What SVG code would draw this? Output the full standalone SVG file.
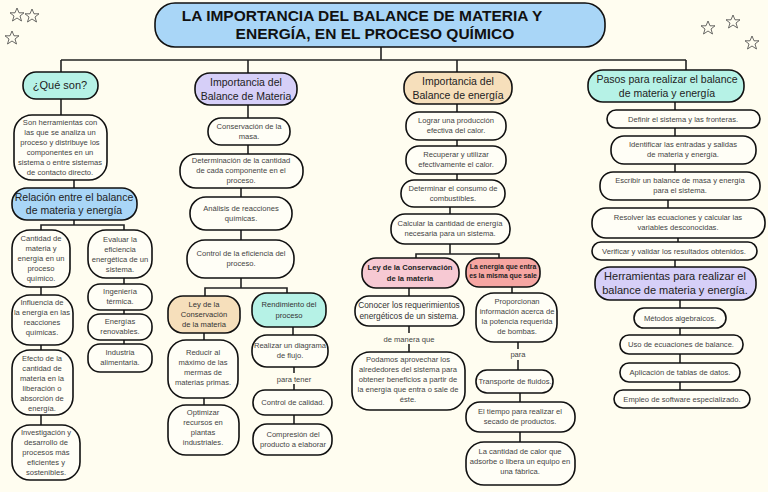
<svg xmlns="http://www.w3.org/2000/svg" width="768" height="492" viewBox="0 0 768 492">
<style>
.b{fill:#fffef6;stroke:#111;stroke-width:1.6}
.teal{fill:#b6f2e6}.blue{fill:#a9d6f7}.lav{fill:#d6cff8}.tan{fill:#f6dfbb}.pink{fill:#f7c9d3}.sal{fill:#f6a6a2}
text{font-family:"Liberation Sans",Arial,sans-serif;text-anchor:middle}
.t{font-size:7.6px;fill:#444}
.h{font-size:11px;fill:#222}
.s{font-size:8.3px;fill:#333}
.bd{font-size:7.6px;font-weight:bold;fill:#222}
.c line,.c path{stroke:#222;stroke-width:1.6;fill:none}
.star{fill:none;stroke:#444;stroke-width:0.8}
</style>
<rect width="768" height="492" fill="#fffdf0"/>
<defs><path id="st" d="M0,-7 L2,-2.2 7,-2.2 3,1 4.5,6 0,3 -4.5,6 -3,1 -7,-2.2 -2,-2.2Z"/></defs>
<g class="star"><use href="#st" x="17" y="15"/><use href="#st" x="32" y="16"/><use href="#st" x="12" y="38"/><use href="#st" x="708" y="28"/><use href="#st" x="733" y="22"/><use href="#st" x="752" y="43"/></g>
<g class="c">
<line x1="381" y1="47" x2="381" y2="60"/><line x1="61" y1="60" x2="686" y2="60"/>
<line x1="61" y1="60" x2="61" y2="72"/><line x1="248" y1="60" x2="248" y2="73"/><line x1="457" y1="60" x2="457" y2="72"/><line x1="686" y1="60" x2="686" y2="70"/>
<line x1="61" y1="99" x2="61" y2="115"/><line x1="74" y1="180" x2="74" y2="188"/><line x1="74" y1="220" x2="74" y2="225"/>
<path d="M41,230 V225 H124 V230"/><line x1="41" y1="287" x2="41" y2="295"/><line x1="41" y1="345" x2="41" y2="350"/><line x1="41" y1="415" x2="41" y2="425"/>
<line x1="124" y1="278" x2="124" y2="284"/><line x1="124" y1="310" x2="124" y2="314"/><line x1="124" y1="340" x2="124" y2="344"/>
<line x1="248" y1="105" x2="248" y2="118"/><line x1="248" y1="145" x2="248" y2="154"/><line x1="241" y1="188" x2="241" y2="197"/><line x1="241" y1="230" x2="241" y2="240"/><line x1="241" y1="278" x2="241" y2="288"/>
<path d="M205,296 V288 H287 V293"/><line x1="204" y1="333" x2="204" y2="340"/><line x1="204" y1="398" x2="204" y2="405"/>
<line x1="293" y1="327" x2="293" y2="335"/><line x1="294" y1="367" x2="294" y2="373"/><line x1="294" y1="384" x2="294" y2="390"/><line x1="294" y1="415" x2="294" y2="424"/>
<line x1="457" y1="104" x2="457" y2="112"/><line x1="457" y1="140" x2="457" y2="146"/><line x1="457" y1="174" x2="457" y2="180"/><line x1="450" y1="207" x2="450" y2="214"/><line x1="450" y1="244" x2="450" y2="254"/>
<path d="M416,258 V254 H499 V258"/><line x1="409" y1="288" x2="409" y2="296"/><line x1="409" y1="326" x2="409" y2="333"/><line x1="409" y1="344" x2="409" y2="352"/>
<line x1="512" y1="287" x2="512" y2="293"/><line x1="518" y1="342" x2="518" y2="349"/><line x1="518" y1="360" x2="518" y2="370"/><line x1="520" y1="393" x2="520" y2="402"/><line x1="520" y1="432" x2="520" y2="442"/>
<line x1="675" y1="102" x2="675" y2="110"/><line x1="675" y1="128" x2="675" y2="136"/><line x1="675" y1="164" x2="675" y2="172"/><line x1="668" y1="200" x2="668" y2="208"/><line x1="678" y1="238" x2="678" y2="242"/><line x1="675" y1="260" x2="675" y2="267"/>
<line x1="680" y1="300" x2="680" y2="308"/><line x1="680" y1="328" x2="680" y2="335"/><line x1="680" y1="354" x2="680" y2="363"/><line x1="680" y1="382" x2="680" y2="390"/>
</g>
<g id="title"><rect class="b blue" x="155" y="3" width="450" height="44" rx="20"/><text x="362" y="21" style="font-size:15.5px;font-weight:bold;fill:#111">LA IMPORTANCIA DEL BALANCE DE MATERIA Y</text><text x="375" y="39" style="font-size:15.5px;font-weight:bold;fill:#111">ENERGÍA, EN EL PROCESO QUÍMICO</text></g>
<g id="queson"><rect class="b teal" x="23" y="72" width="75" height="27" rx="13"/><text class="h" x="60" y="89">¿Qué son?</text></g>
<g id="son"><rect class="b" x="14" y="115" width="93" height="65" rx="18"/><text class="t"><tspan x="60" y="125">Son herramientas con</tspan><tspan x="60" y="135">las que se analiza un</tspan><tspan x="60" y="145">proceso y distribuye  los</tspan><tspan x="60" y="155">componentes en un</tspan><tspan x="60" y="165">sistema o entre sistemas</tspan><tspan x="60" y="175">de contacto directo.</tspan></text></g>
<g id="relacion"><rect class="b blue" x="12" y="188" width="125" height="32" rx="15"/><text class="h" style="font-size:10.5px"><tspan x="74" y="201">Relación entre el balance</tspan><tspan x="74" y="214">de materia y energía</tspan></text></g>
<g id="cantidad"><rect class="b" x="12" y="230" width="58" height="57" rx="18"/><text class="t"><tspan x="41" y="241">Cantidad de</tspan><tspan x="41" y="251">materia y</tspan><tspan x="41" y="261">energía en un</tspan><tspan x="41" y="271">proceso</tspan><tspan x="41" y="281">químico.</tspan></text></g>
<g id="influencia"><rect class="b" x="12" y="295" width="61" height="50" rx="18"/><text class="t"><tspan x="42" y="305">Influencia de</tspan><tspan x="42" y="315">la energía en las</tspan><tspan x="42" y="325">reacciones</tspan><tspan x="42" y="335">químicas.</tspan></text></g>
<g id="efecto"><rect class="b" x="12" y="350" width="61" height="65" rx="18"/><text class="t"><tspan x="42" y="361">Efecto de la</tspan><tspan x="42" y="371">cantidad de</tspan><tspan x="42" y="381">materia en la</tspan><tspan x="42" y="391">liberación o</tspan><tspan x="42" y="401">absorción de</tspan><tspan x="42" y="411">energía.</tspan></text></g>
<g id="investigacion"><rect class="b" x="12" y="425" width="68" height="55" rx="18"/><text class="t"><tspan x="46" y="435">Investigación y</tspan><tspan x="46" y="445">desarrollo de</tspan><tspan x="46" y="455">procesos más</tspan><tspan x="46" y="465">eficientes y</tspan><tspan x="46" y="475">sostenibles.</tspan></text></g>
<g id="evaluar"><rect class="b" x="88" y="230" width="64" height="48" rx="18"/><text class="t"><tspan x="120" y="242">Evaluar la</tspan><tspan x="120" y="252">eficiencia</tspan><tspan x="120" y="262">energética de un</tspan><tspan x="120" y="272">sistema.</tspan></text></g>
<g id="ingenieria"><rect class="b" x="88" y="284" width="64" height="26" rx="12"/><text class="t"><tspan x="120" y="294">Ingeniería</tspan><tspan x="120" y="304">térmica.</tspan></text></g>
<g id="energias"><rect class="b" x="88" y="314" width="64" height="26" rx="12"/><text class="t"><tspan x="120" y="324">Energías</tspan><tspan x="120" y="334">renovables.</tspan></text></g>
<g id="industria"><rect class="b" x="88" y="344" width="64" height="28" rx="12"/><text class="t"><tspan x="120" y="355">Industria</tspan><tspan x="120" y="365">alimentaria.</tspan></text></g>
<g id="impmat"><rect class="b lav" x="195" y="73" width="102" height="32" rx="15"/><text class="h" style="font-size:10.5px"><tspan x="246" y="86">Importancia del</tspan><tspan x="246" y="100">Balance de Materia</tspan></text></g>
<g id="conservacion"><rect class="b" x="208" y="118" width="82" height="27" rx="13"/><text class="t"><tspan x="249" y="129">Conservación de la</tspan><tspan x="249" y="139">masa.</tspan></text></g>
<g id="determinacion"><rect class="b" x="180" y="154" width="123" height="34" rx="16"/><text class="t"><tspan x="241" y="163">Determinación de la cantidad</tspan><tspan x="241" y="173">de cada componente en el</tspan><tspan x="241" y="183">proceso.</tspan></text></g>
<g id="analisis"><rect class="b" x="190" y="197" width="102" height="33" rx="16"/><text class="t"><tspan x="241" y="211">Análisis de reacciones</tspan><tspan x="241" y="221">químicas.</tspan></text></g>
<g id="control"><rect class="b" x="187" y="240" width="107" height="38" rx="18"/><text class="t"><tspan x="241" y="256">Control de la eficiencia del</tspan><tspan x="241" y="266">proceso.</tspan></text></g>
<g id="leymat"><rect class="b tan" x="168" y="296" width="72" height="37" rx="15"/><text class="t" style="fill:#333"><tspan x="204" y="307">Ley de la</tspan><tspan x="204" y="317">Conservación</tspan><tspan x="204" y="327">de la materia</tspan></text></g>
<g id="rendimiento"><rect class="b teal" x="252" y="293" width="74" height="34" rx="15"/><text class="t" style="fill:#333"><tspan x="289" y="307">Rendimiento del</tspan><tspan x="289" y="318">proceso</tspan></text></g>
<g id="reducir"><rect class="b" x="168" y="340" width="70" height="58" rx="18"/><text class="t"><tspan x="203" y="355">Reducir al</tspan><tspan x="203" y="365">máximo de las</tspan><tspan x="203" y="375">mermas de</tspan><tspan x="203" y="385">materias primas.</tspan></text></g>
<g id="optimizar"><rect class="b" x="168" y="405" width="71" height="50" rx="18"/><text class="t"><tspan x="203" y="415">Optimizar</tspan><tspan x="203" y="425">recursos en</tspan><tspan x="203" y="435">plantas</tspan><tspan x="203" y="445">industriales.</tspan></text></g>
<g id="realizar"><rect class="b" x="252" y="335" width="76" height="32" rx="15"/><text class="t"><tspan x="290" y="348">Realizar un diagrama</tspan><tspan x="290" y="358">de flujo.</tspan></text></g>
<text class="t" x="294" y="382">para tener</text>
<g id="calidad"><rect class="b" x="253" y="390" width="79" height="25" rx="12"/><text class="t" x="293" y="405">Control de calidad.</text></g>
<g id="compresion"><rect class="b" x="253" y="424" width="79" height="31" rx="14"/><text class="t"><tspan x="293" y="437">Compresión del</tspan><tspan x="293" y="447">producto a elaborar</tspan></text></g>
<g id="impen"><rect class="b tan" x="404" y="72" width="108" height="32" rx="15"/><text class="h" style="font-size:10.5px"><tspan x="458" y="85">Importancia del</tspan><tspan x="458" y="99">Balance de energía</tspan></text></g>
<g id="lograr"><rect class="b" x="406" y="112" width="100" height="28" rx="13"/><text class="t"><tspan x="456" y="123">Lograr una producción</tspan><tspan x="456" y="133">efectiva del calor.</tspan></text></g>
<g id="recuperar"><rect class="b" x="406" y="146" width="100" height="28" rx="13"/><text class="t"><tspan x="456" y="157">Recuperar y utilizar</tspan><tspan x="456" y="167">efectivamente el calor.</tspan></text></g>
<g id="determinar"><rect class="b" x="401" y="180" width="104" height="27" rx="13"/><text class="t"><tspan x="453" y="191">Determinar el consumo de</tspan><tspan x="453" y="201">combustibles.</tspan></text></g>
<g id="calcular"><rect class="b" x="391" y="214" width="119" height="30" rx="14"/><text class="t"><tspan x="450" y="226">Calcular la cantidad de energía</tspan><tspan x="450" y="236">necesaria para un sistema.</tspan></text></g>
<g id="leyen"><rect class="b pink" x="362" y="258" width="97" height="30" rx="14"/><text class="bd"><tspan x="410" y="270">Ley de la Conservación</tspan><tspan x="410" y="281">de la materia</tspan></text></g>
<g id="energia"><rect class="b sal" x="466" y="258" width="74" height="29" rx="13"/><text class="bd" style="font-size:6.8px"><tspan x="503" y="269">La energía que entra</tspan><tspan x="503" y="278">es la misma que sale</tspan></text></g>
<g id="conocer"><rect class="b" x="355" y="296" width="109" height="30" rx="14"/><text class="s"><tspan x="409" y="308">Conocer los requerimientos</tspan><tspan x="409" y="319">energéticos de un sistema.</tspan></text></g>
<text class="t" x="409" y="342">de manera que</text>
<g id="podamos"><rect class="b" x="352" y="352" width="113" height="58" rx="18"/><text class="t"><tspan x="408" y="362">Podamos aprovechar los</tspan><tspan x="408" y="372">alrededores del sistema para</tspan><tspan x="408" y="382">obtener beneficios a partir de</tspan><tspan x="408" y="392">la energía que entra o sale de</tspan><tspan x="408" y="402">éste.</tspan></text></g>
<g id="proporcionan"><rect class="b" x="476" y="293" width="81" height="49" rx="18"/><text class="t"><tspan x="517" y="304">Proporcionan</tspan><tspan x="517" y="314">información acerca de</tspan><tspan x="517" y="324">la potencia requerida</tspan><tspan x="517" y="334">de bombas.</tspan></text></g>
<text class="t" x="518" y="357">para</text>
<g id="transporte"><rect class="b" x="476" y="370" width="77" height="23" rx="11"/><text class="t" x="515" y="384">Transporte de fluidos.</text></g>
<g id="tiempo"><rect class="b" x="466" y="402" width="109" height="30" rx="14"/><text class="t"><tspan x="520" y="414">El tiempo para realizar el</tspan><tspan x="520" y="424">secado de productos.</tspan></text></g>
<g id="calor"><rect class="b" x="466" y="442" width="109" height="43" rx="18"/><text class="t"><tspan x="520" y="454">La cantidad de calor que</tspan><tspan x="520" y="464">adsorbe o libera un equipo en</tspan><tspan x="520" y="474">una fábrica.</tspan></text></g>
<g id="pasos"><rect class="b teal" x="588" y="70" width="156" height="32" rx="15"/><text class="h" style="font-size:10.5px"><tspan x="667" y="83">Pasos para realizar el balance</tspan><tspan x="667" y="97">de materia y energía</tspan></text></g>
<g id="definir"><rect class="b" x="607" y="110" width="153" height="18" rx="9"/><text class="t" x="683" y="122">Definir el sistema y las fronteras.</text></g>
<g id="identificar"><rect class="b" x="611" y="136" width="145" height="28" rx="13"/><text class="t"><tspan x="683" y="147">Identificar las entradas y salidas</tspan><tspan x="683" y="157">de materia y energía.</tspan></text></g>
<g id="escribir"><rect class="b" x="600" y="172" width="160" height="28" rx="13"/><text class="t"><tspan x="680" y="183">Escribir un balance de masa y energía</tspan><tspan x="680" y="193">para el sistema.</tspan></text></g>
<g id="resolver"><rect class="b" x="592" y="208" width="173" height="30" rx="14"/><text class="t"><tspan x="678" y="220">Resolver las ecuaciones y calcular las</tspan><tspan x="678" y="230">variables desconocidas.</tspan></text></g>
<g id="verificar"><rect class="b" x="592" y="242" width="165" height="18" rx="9"/><text class="t" x="674" y="254">Verificar y validar los resultados obtenidos.</text></g>
<g id="herramientas"><rect class="b lav" x="595" y="267" width="161" height="33" rx="15"/><text class="h" style="font-size:11px"><tspan x="675" y="280">Herramientas para realizar el</tspan><tspan x="675" y="294">balance de materia y energía.</tspan></text></g>
<g id="metodos"><rect class="b" x="634" y="308" width="92" height="20" rx="10"/><text class="t" x="680" y="321">Métodos algebraicos.</text></g>
<g id="uso"><rect class="b" x="620" y="335" width="123" height="19" rx="9"/><text class="t" x="681" y="347">Uso de ecuaciones de balance.</text></g>
<g id="aplicacion"><rect class="b" x="620" y="363" width="120" height="19" rx="9"/><text class="t" x="680" y="375">Aplicación de tablas de datos.</text></g>
<g id="empleo"><rect class="b" x="614" y="390" width="136" height="18" rx="9"/><text class="t" x="682" y="402">Empleo de software especializado.</text></g>
</svg>
